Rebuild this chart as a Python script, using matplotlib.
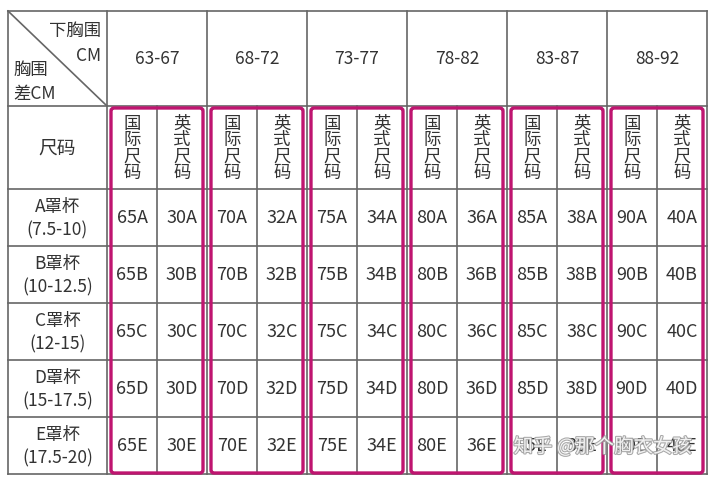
import matplotlib.pyplot as plt
import matplotlib.patheffects as pe
from matplotlib.patches import FancyBboxPatch

plt.rcParams['font.family'] = ['Noto Sans CJK SC', 'DejaVu Sans']

ranges = ['63-67', '68-72', '73-77', '78-82', '83-87', '88-92']
band_nums = [65, 70, 75, 80, 85, 90]
uk_nums = [30, 32, 34, 36, 38, 40]
cups = ['A', 'B', 'C', 'D', 'E']
cup_ranges = ['(7.5-10)', '(10-12.5)', '(12-15)', '(15-17.5)', '(17.5-20)']

grey = '#666666'
txt = '#333333'
pink = '#bf1570'

fig = plt.figure(figsize=(7.12, 4.81), dpi=100)
ax = fig.add_axes([0, 0, 1, 1])
ax.set_xlim(0, 712)
ax.set_ylim(481, 0)
ax.axis('off')

left, first_w, grp_w = 8, 99, 100
top, head_h, size_h, row_h = 12, 95, 83, 57
right = left + first_w + grp_w * len(ranges)
y_rows = [top, top + head_h, top + head_h + size_h]
for i in range(len(cups)):
    y_rows.append(y_rows[-1] + row_h)
bottom = y_rows[-1]

# grid lines
for y in y_rows:
    ax.plot([left, right], [y, y], color=grey, lw=1.2)
xs = [left] + [left + first_w + grp_w * g for g in range(len(ranges) + 1)]
for x in xs:
    ax.plot([x, x], [top, bottom], color=grey, lw=1.2)
for g in range(len(ranges)):
    xm = left + first_w + grp_w * g + grp_w / 2
    ax.plot([xm, xm], [y_rows[1], bottom], color=grey, lw=1.2)
ax.plot([left, left + first_w], [top, y_rows[1]], color=grey, lw=1.2)

# corner header
fs = 12.5
ax.text(left + first_w - 6, top + 19, '下胸围', ha='right', va='center', fontsize=fs, color=txt)
ax.text(left + first_w - 6, top + 44, 'CM', ha='right', va='center', fontsize=fs, color=txt)
ax.text(left + 5, top + 58, '胸围', ha='left', va='center', fontsize=fs, color=txt)
ax.text(left + 5, top + 82, '差CM', ha='left', va='center', fontsize=fs, color=txt)
ax.text(left + first_w / 2, (y_rows[1] + y_rows[2]) / 2, '尺码', ha='center', va='center', fontsize=13.5, color=txt)

for g, r in enumerate(ranges):
    x0 = left + first_w + grp_w * g
    ax.text(x0 + grp_w / 2, (top + y_rows[1]) / 2, r, ha='center', va='center', fontsize=fs, color=txt)
    for k, lab in enumerate(['国际尺码', '英式尺码']):
        ax.text(x0 + grp_w / 4 + k * grp_w / 2, (y_rows[1] + y_rows[2]) / 2, '\n'.join(lab),
                ha='center', va='center', fontsize=12.5, color=txt, linespacing=0.9)
    for i, c in enumerate(cups):
        yc = (y_rows[i + 2] + y_rows[i + 3]) / 2
        ax.text(x0 + grp_w / 4, yc, f'{band_nums[g]}{c}', ha='center', va='center', fontsize=13, color=txt)
        ax.text(x0 + 3 * grp_w / 4, yc, f'{uk_nums[g]}{c}', ha='center', va='center', fontsize=13, color=txt)
    ax.add_patch(FancyBboxPatch((x0 + 4, y_rows[1] + 2), grp_w - 8, bottom - y_rows[1] - 3,
                                boxstyle='round,pad=0,rounding_size=3', fill=False,
                                edgecolor=pink, lw=2.4, zorder=5))

for i, c in enumerate(cups):
    yc = (y_rows[i + 2] + y_rows[i + 3]) / 2
    ax.text(left + first_w / 2, yc - 11, f'{c}罩杯', ha='center', va='center', fontsize=fs, color=txt)
    ax.text(left + first_w / 2, yc + 12, cup_ranges[i], ha='center', va='center', fontsize=fs, color=txt)

# watermark
ax.text(603, 448, '知乎 @那个胸衣女孩', ha='center', va='center', fontsize=14,
        color='white', alpha=0.85, zorder=6,
        path_effects=[pe.withStroke(linewidth=1.5, foreground='#999999')])

fig.savefig('out.png', dpi=100)
